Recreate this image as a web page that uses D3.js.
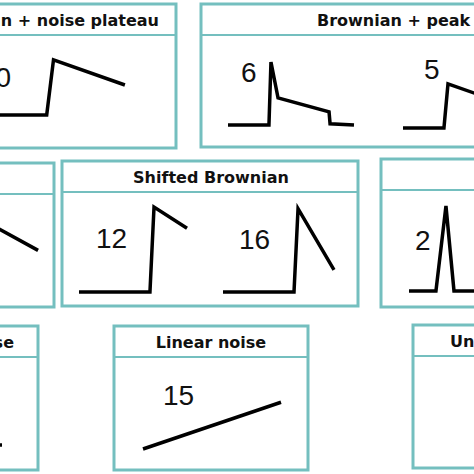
<!DOCTYPE html>
<html>
<head>
<meta charset="utf-8">
<script src="https://cdn.jsdelivr.net/npm/d3@7"></script>
<style>
  body { margin: 0; background: #fff; }
  svg { display: block; }
</style>
</head>
<body>
<svg id="chart" width="474" height="474"></svg>
<script>
// Panel titles (empty where the title is cut off the picture)
const panelTitles = ["Brownian + noise plateau", "Brownian + peak", "", "Shifted Brownian",
    "", "Gaussian noise", "Linear noise", "Uniform noise"];

// Number of series per pattern
const signalLabels = ["10", "6", "5", "", "12", "16", "2", "", "15"];

// Pattern shapes: time (0-10) and amplitude (0-10)
const signalTimes = [
    [0, 5.1, 5.5, 9.7],
    [0, 3.25, 3.41, 3.97, 8.02, 8.1, 10],
    [0, 3.25, 3.57, 9.29],
    [0, 5, 5.31, 9.88],
    [0, 6.45, 6.82, 9.82],
    [0, 6.34, 6.7, 9.91],
    [0, 2.45, 3.36, 4.09, 10],
    [0, 10],
    [0, 10]
];
const signalValues = [
    [0, 0, 9.2, 5.0],
    [0, 0, 10, 4.3, 2.1, 0.2, 0],
    [0, 0, 7.0, 3.0],
    [0, 0, 9.6, 4.9],
    [0, 0, 10, 7.5],
    [0, 0, 9.8, 2.6],
    [0, 0, 10, 0, 0],
    [0, 0],
    [0, 5.5]
];

/* Layout */
// boxes: x, y, width, height, title x, title anchor
const boxes = [
    [-84, 4, 260, 144, 159, "end"],
    [201, 4, 385, 143, 317, "start"],
    [-200, 163, 254, 144, 0, "middle"],
    [62, 161, 296, 145, 211, "middle"],
    [381, 159, 300, 148, 0, "middle"],
    [-158, 326, 196, 144, 14, "end"],
    [114, 326, 194, 144, 211, "middle"],
    [413, 325, 300, 143, 450, "start"]
];
const headerHeight = 31;

// frames for each pattern: x at t=0, x at t=10, y at v=0, y at v=10
const frames = [
    [-40, 130, 115, 55],
    [228, 354, 125, 62],
    [403, 529, 128, 65],
    [-120, 40, 292, 207],
    [79, 189, 292, 207],
    [223, 335, 292, 207],
    [409, 519, 291, 206],
    [-60, 2, 445, 360],
    [143, 281, 449, 364]
];
// label x (left) and baseline
const labelPos = [
    [-20, 87], [241, 82], [424, 79], [0, 0], [96, 248],
    [239, 249], [415, 250], [0, 0], [163, 405]
];

const teal = "#74bfbf";
const svg = d3.select("#chart");

svg.append("rect")
    .attr("width", 474)
    .attr("height", 474)
    .attr("fill", "#fff");

// Boxes with header line
const box = svg.append("g")
    .selectAll("g")
    .data(boxes)
    .enter()
    .append("g");

box.append("rect")
    .attr("x", (d) => d[0])
    .attr("y", (d) => d[1])
    .attr("width", (d) => d[2])
    .attr("height", (d) => d[3])
    .attr("fill", "#fff")
    .attr("stroke", teal)
    .attr("stroke-width", 3);

box.append("line")
    .attr("x1", (d) => d[0])
    .attr("x2", (d) => d[0] + d[2])
    .attr("y1", (d) => d[1] + headerHeight)
    .attr("y2", (d) => d[1] + headerHeight)
    .attr("stroke", teal)
    .attr("stroke-width", 2);

box.filter((d, i) => panelTitles[i] !== "")
    .append("text")
    .attr("x", (d) => d[4])
    .attr("y", (d) => d[1] + 22)
    .attr("text-anchor", (d) => d[5])
    .style("font-family", "'DejaVu Sans', Verdana, sans-serif")
    .style("font-weight", "bold")
    .style("font-size", "16px")
    .style("fill", "#111")
    .text((d) => panelTitles[boxes.indexOf(d)]);

// Pattern lines, each drawn through its own scales
const signals = svg.append("g");

signalTimes.forEach((times, i) => {
    const f = frames[i];
    const xScale = d3.scaleLinear().domain([0, 10]).range([f[0], f[1]]);
    const yScale = d3.scaleLinear().domain([0, 10]).range([f[2], f[3]]);

    const line = d3.line()
        .x((d) => xScale(d[0]))
        .y((d) => yScale(d[1]));

    signals.append("path")
        .datum(d3.zip(times, signalValues[i]))
        .attr("d", line)
        .attr("fill", "none")
        .attr("stroke", "#000")
        .attr("stroke-width", 3.5)
        .attr("stroke-linejoin", "miter")
        .attr("stroke-miterlimit", 6);

    if (signalLabels[i] !== "") {
        signals.append("text")
            .attr("x", labelPos[i][0])
            .attr("y", labelPos[i][1])
            .style("font-family", "'Liberation Sans', Arial, sans-serif")
            .style("font-size", "28px")
            .style("fill", "#111")
            .text(signalLabels[i]);
    }
});
</script>
</body>
</html>
